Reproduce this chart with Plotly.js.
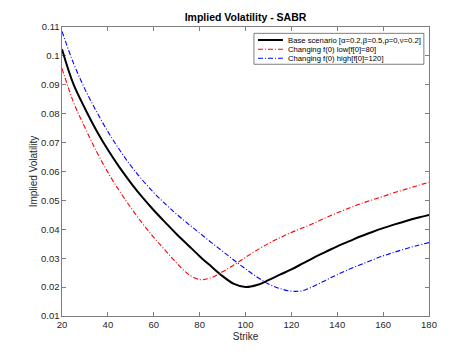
<!DOCTYPE html>
<html>
<head>
<meta charset="utf-8">
<script src="https://cdn.plot.ly/plotly-3.0.1.min.js"></script>
<style>html,body{margin:0;padding:0;background:#fff;}#chart{width:474px;height:355px;}</style>
</head>
<body>
<div id="chart"></div>
<script>
const strike = [20,25,30,35,40,45,50,55,60,65,70,75,80,85,90,95,100,105,110,115,120,125,130,135,140,145,150,155,160,165,170,175,180];
const volBase = [0.1023,0.0902,0.0818,0.0742,0.0675,0.0615,0.0561,0.0511,0.0466,0.0424,0.0383,0.0345,0.0307,0.0272,0.0238,0.0211,0.0200,0.0207,0.0224,0.0243,0.0261,0.0282,0.0303,0.0322,0.0341,0.0358,0.0375,0.0390,0.0404,0.0417,0.0429,0.0440,0.0450];
const volLow = [0.0957,0.0840,0.0752,0.0670,0.0597,0.0533,0.0475,0.0421,0.0372,0.0327,0.0283,0.0245,0.0226,0.0232,0.0253,0.0277,0.0303,0.0328,0.0351,0.0371,0.0389,0.0405,0.0422,0.0440,0.0457,0.0473,0.0488,0.0501,0.0514,0.0527,0.0539,0.0551,0.0563];
const volHigh = [0.1085,0.0975,0.0885,0.0808,0.0738,0.0676,0.0620,0.0571,0.0527,0.0488,0.0452,0.0419,0.0387,0.0355,0.0324,0.0293,0.0263,0.0235,0.0211,0.0195,0.0186,0.0188,0.0204,0.0224,0.0243,0.0261,0.0277,0.0293,0.0308,0.0321,0.0333,0.0344,0.0354];
const seriesNames = ['Base scenario [α=0.2,β=0.5,ρ=0,ν=0.2]','Changing f(0) low[f[0]=80]','Changing f(0) high[f[0]=120]'];
const seriesColors = ['#000000','#FF0000','#0000FF'];
const xTickVals = [20,40,60,80,100,120,140,160,180];
const xTickText = ['20','40','60','80','100','120','140','160','180'];
const yTickVals = [0.01,0.02,0.03,0.04,0.05,0.06,0.07,0.08,0.09,0.1,0.11];
const yTickText = ['0.01','0.02','0.03','0.04','0.05','0.06','0.07','0.08','0.09','0.1','0.11'];

const FONT = 'Liberation Sans, Arial, Helvetica, sans-serif';
const dashDot = '5px,2px,1px,2px';
const seriesData = [volBase, volLow, volHigh];
const seriesStyle = [
  {width: 2, dash: 'solid'},
  {width: 1.1, dash: dashDot},
  {width: 1.1, dash: dashDot}
];

const traces = seriesData.map((ys, i) => ({
  x: strike, y: ys, name: seriesNames[i], mode: 'lines', showlegend: false,
  line: {color: seriesColors[i], width: seriesStyle[i].width, dash: seriesStyle[i].dash, shape: 'spline', smoothing: 1}
}));

// Compact MATLAB-style legend box (paper coordinates)
const legBox = {x0: 0.523, x1: 0.986, y0: 0.871, y1: 0.978};
const legRows = [0.955, 0.923, 0.892];
const shapes = [{type: 'rect', xref: 'paper', yref: 'paper', x0: legBox.x0, x1: legBox.x1, y0: legBox.y0, y1: legBox.y1,
  fillcolor: '#ffffff', line: {color: '#262626', width: 0.6}, layer: 'above'}];
const annotations = [];
legRows.forEach((yy, i) => {
  shapes.push({type: 'line', xref: 'paper', yref: 'paper', x0: 0.534, x1: 0.602, y0: yy, y1: yy,
    line: {color: seriesColors[i], width: seriesStyle[i].width, dash: seriesStyle[i].dash}, layer: 'above'});
  annotations.push({xref: 'paper', yref: 'paper', x: 0.610, y: yy, xanchor: 'left', yanchor: 'middle', showarrow: false,
    text: seriesNames[i], font: {family: FONT, size: 7.7, color: '#000000'}});
});

const axisCommon = {
  showgrid: false, zeroline: false, showline: true, linecolor: '#262626', linewidth: 0.6,
  mirror: 'ticks', ticks: 'inside', ticklen: 4, tickwidth: 0.6, tickcolor: '#262626',
  tickfont: {family: FONT, size: 9.5, color: '#262626'}
};

const layout = {
  width: 474, height: 355,
  margin: {l: 62, r: 45, t: 27, b: 39, pad: 0},
  paper_bgcolor: '#ffffff', plot_bgcolor: '#ffffff',
  font: {family: FONT, color: '#262626'},
  title: {text: '<b>Implied Volatility - SABR</b>', font: {family: FONT, size: 10.5, color: '#000000'},
          x: 0.5, xref: 'paper', xanchor: 'center', y: 1 - 17/355, yref: 'container', yanchor: 'middle'},
  xaxis: Object.assign({}, axisCommon, {range: [20, 180], tickmode: 'array', tickvals: xTickVals, ticktext: xTickText,
    title: {text: 'Strike', font: {family: FONT, size: 10, color: '#262626'}, standoff: 3}}),
  yaxis: Object.assign({}, axisCommon, {range: [0.01, 0.11], tickmode: 'array', tickvals: yTickVals, ticktext: yTickText,
    title: {text: 'Implied Volatility', font: {family: FONT, size: 10, color: '#262626'}, standoff: 1}}),
  showlegend: false,
  shapes: shapes,
  annotations: annotations
};

Plotly.newPlot('chart', traces, layout, {displayModeBar: false, staticPlot: true});
</script>
</body>
</html>
